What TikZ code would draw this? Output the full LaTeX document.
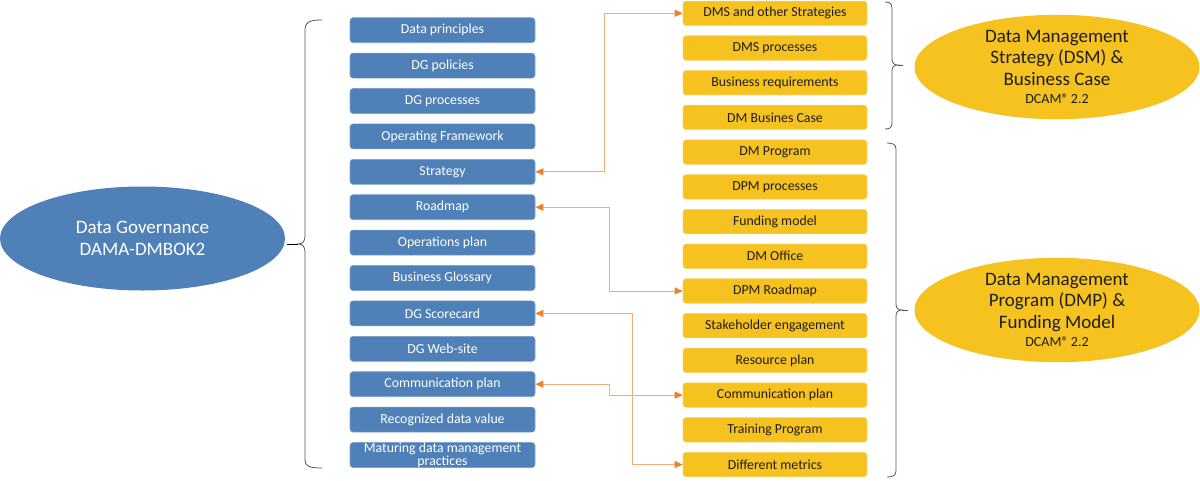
\documentclass[tikz,border=0pt]{standalone}
\usepackage{fontspec}
\setmainfont{Carlito}
\usetikzlibrary{arrows.meta,shapes.geometric}
\definecolor{dgblue}{HTML}{4F81B8}
\definecolor{dgblueedge}{HTML}{7FA4CD}
\definecolor{dmyellow}{HTML}{F5C220}
\definecolor{dmyellowedge}{HTML}{F8D56E}
\definecolor{orline}{HTML}{F5AC78}
\definecolor{orhead}{HTML}{EE8030}
\definecolor{bracegray}{HTML}{555555}
\definecolor{darktext}{HTML}{1E1E1E}
\begin{document}
\begin{tikzpicture}[x=1pt,y=-1pt,
  bluebox/.style={rectangle,rounded corners=3pt,fill=dgblue,draw=dgblueedge,line width=0.6pt,
    minimum width=185pt,minimum height=25pt,inner sep=0pt,text=white,align=center,
    font=\fontsize{13.8}{13}\selectfont},
  yellowbox/.style={rectangle,rounded corners=3pt,fill=dmyellow,draw=dmyellowedge,line width=0.6pt,
    minimum width=184pt,minimum height=24.5pt,inner sep=0pt,text=darktext,align=center,
    font=\fontsize{13.8}{15}\selectfont},
  bigell/.style={ellipse,minimum width=285pt,minimum height=104pt,inner sep=0pt,align=center},
  conn/.style={draw=orline,line width=0.9pt,
    {Triangle[length=8pt,width=7pt,color=orhead]}-{Triangle[length=8pt,width=7pt,color=orhead]}},
  bracestyle/.style={draw=bracegray,line width=0.8pt}
]
\useasboundingbox (0,0) rectangle (1200,480);

% blue column
\foreach [count=\i] \t in {Data principles,DG policies,DG processes,Operating Framework,Strategy,Roadmap,Operations plan,Business Glossary,DG Scorecard,DG Web-site,Communication plan,Recognized data value,{Maturing data management\\practices}}
  \node[bluebox] (b\i) at (442.5,{30.2+35.4*(\i-1)}) {\t};

% yellow column
\foreach [count=\i] \t in {DMS and other Strategies,DMS processes,Business requirements,DM Busines Case,DM Program,DPM processes,Funding model,DM Office,DPM Roadmap,Stakeholder engagement,Resource plan,Communication plan,Training Program,Different metrics}
  \node[yellowbox] (y\i) at (775,{13.3+34.71*(\i-1)}) {\t};

% ellipses
\node[bigell,fill=dgblue,text=white,font=\fontsize{19}{22}\selectfont] (dg) at (142.5,238.5)
  {Data Governance\\DAMA-DMBOK2};
\node[bigell,fill=dmyellow,text=darktext,font=\fontsize{19}{21.5}\selectfont] (dsm) at (1057,67)
  {Data Management\\Strategy (DSM) \&\\Business Case\\[-3pt]{\fontsize{14}{16}\selectfont DCAM®\,2.2}};
\node[bigell,fill=dmyellow,text=darktext,font=\fontsize{19}{21.5}\selectfont] (dmp) at (1057,310)
  {Data Management\\Program (DMP) \&\\Funding Model\\[-3pt]{\fontsize{14}{16}\selectfont DCAM®\,2.2}};

% left brace
\coordinate (lbtip) at (298,244);
\draw[bracestyle] (322,20) .. controls (309,20) and (305,22) .. (305,30) -- (305,236)
  .. controls (305,241) and (303,244) .. (lbtip)
  .. controls (303,244) and (305,247) .. (305,252) -- (305,460)
  .. controls (305,466) and (309,468) .. (322,468);
\draw[bracestyle,draw=black] (dg.east |- lbtip) ++(2,0) -- (lbtip);

% right brace 1
\coordinate (rb1tip) at (898,65);
\draw[bracestyle] (885,2) .. controls (889,2) and (892,3) .. (892,8) -- (892,59)
  .. controls (892,63) and (894,65) .. (rb1tip)
  .. controls (894,65) and (892,67) .. (892,71) -- (892,123)
  .. controls (892,128) and (889,129) .. (885,129);
\draw[bracestyle] (rb1tip) -- (903,65);

% right brace 2
\coordinate (rb2tip) at (902,310);
\draw[bracestyle] (887,143) .. controls (892,143) and (896,144) .. (896,149) -- (896,304)
  .. controls (896,308) and (898,310) .. (rb2tip)
  .. controls (898,310) and (896,312) .. (896,316) -- (896,471)
  .. controls (896,476) and (892,477) .. (887,477);
\draw[bracestyle] (rb2tip) -- (908,310);

% connectors
\draw[conn] (b5.east) -- ++(69,0) |- (y1.west);
\draw[conn] (b6.east) -- ++(74,0) |- (y9.west);
\draw[conn] (b9.east) -- ++(97,0) |- (y14.west);
\draw[conn] (b11.east) -- ++(74,0) |- (y12.west);
\end{tikzpicture}
\end{document}
